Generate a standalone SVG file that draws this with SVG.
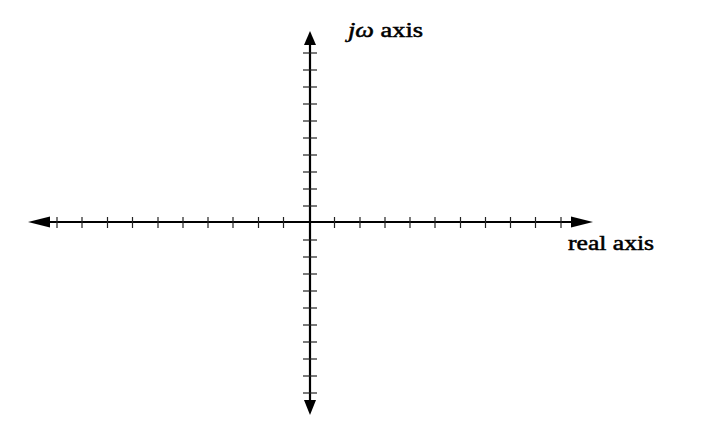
<svg xmlns="http://www.w3.org/2000/svg" width="712" height="436" viewBox="0 0 712 436">
<style>
.ax{stroke:#000;stroke-width:2.2;fill:none}
.tk{stroke:#222;stroke-width:1.2}
.lbl{font-family:"Liberation Serif","Times New Roman",serif;font-size:20px;fill:#000;stroke:#000;stroke-width:0.5}
</style>
<rect width="712" height="436" fill="#fff"/>
<g id="connectors">
<line class="ax" x1="46" y1="222" x2="575" y2="222"/>
<line class="ax" x1="310" y1="44" x2="310" y2="400"/>
<polygon points="28,222 50,216.5 50,227.5" fill="#000"/>
<polygon points="593,222 571,216.5 571,227.5" fill="#000"/>
<polygon points="310,31 304,45 316,45" fill="#000"/>
<polygon points="310,415 304,400 316,400" fill="#000"/>
<g class="tk">
<line x1="57" y1="217" x2="57" y2="228"/>
<line x1="82" y1="217" x2="82" y2="228"/>
<line x1="107.5" y1="217" x2="107.5" y2="228"/>
<line x1="132.5" y1="217" x2="132.5" y2="228"/>
<line x1="158" y1="217" x2="158" y2="228"/>
<line x1="183" y1="217" x2="183" y2="228"/>
<line x1="208" y1="217" x2="208" y2="228"/>
<line x1="233" y1="217" x2="233" y2="228"/>
<line x1="258.5" y1="217" x2="258.5" y2="228"/>
<line x1="283.5" y1="217" x2="283.5" y2="228"/>
<line x1="334.5" y1="217" x2="334.5" y2="228"/>
<line x1="360" y1="217" x2="360" y2="228"/>
<line x1="385" y1="217" x2="385" y2="228"/>
<line x1="410" y1="217" x2="410" y2="228"/>
<line x1="435" y1="217" x2="435" y2="228"/>
<line x1="460.5" y1="217" x2="460.5" y2="228"/>
<line x1="485.5" y1="217" x2="485.5" y2="228"/>
<line x1="510.5" y1="217" x2="510.5" y2="228"/>
<line x1="535.5" y1="217" x2="535.5" y2="228"/>
<line x1="561" y1="217" x2="561" y2="228"/>
<line x1="303" y1="53" x2="317" y2="53"/>
<line x1="303" y1="70" x2="317" y2="70"/>
<line x1="303" y1="87" x2="317" y2="87"/>
<line x1="303" y1="104" x2="317" y2="104"/>
<line x1="303" y1="121" x2="317" y2="121"/>
<line x1="303" y1="138" x2="317" y2="138"/>
<line x1="303" y1="155" x2="317" y2="155"/>
<line x1="303" y1="172" x2="317" y2="172"/>
<line x1="303" y1="189" x2="317" y2="189"/>
<line x1="303" y1="206" x2="317" y2="206"/>
<line x1="303" y1="240" x2="317" y2="240"/>
<line x1="303" y1="257" x2="317" y2="257"/>
<line x1="303" y1="274" x2="317" y2="274"/>
<line x1="303" y1="291" x2="317" y2="291"/>
<line x1="303" y1="308" x2="317" y2="308"/>
<line x1="303" y1="325" x2="317" y2="325"/>
<line x1="303" y1="342" x2="317" y2="342"/>
<line x1="303" y1="359" x2="317" y2="359"/>
<line x1="303" y1="376" x2="317" y2="376"/>
<line x1="303" y1="393" x2="317" y2="393"/>
</g>
</g>
<g id="label-jw"><text class="lbl" x="348" y="37" textLength="75" lengthAdjust="spacingAndGlyphs"><tspan font-style="italic">jω</tspan> axis</text></g>
<g id="label-real"><text class="lbl" x="568" y="250" textLength="86" lengthAdjust="spacingAndGlyphs">real axis</text></g>
</svg>
